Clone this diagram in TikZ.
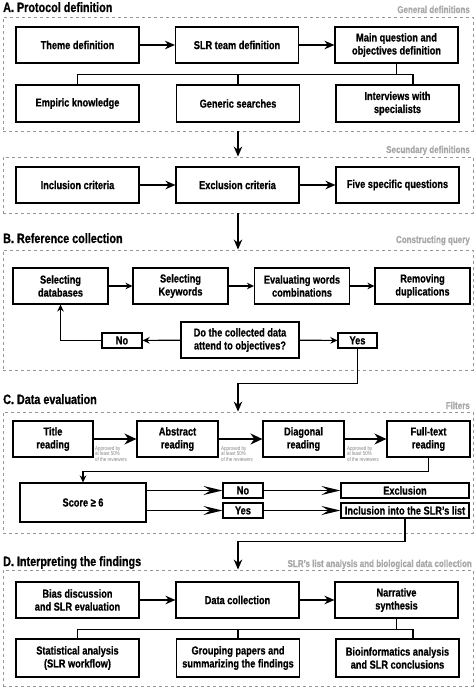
\documentclass[tikz,border=0pt]{standalone}
\usepackage{fontspec}
\setmainfont{Liberation Sans}[FakeStretch=0.8,BoldFeatures={FakeBold=0.7}]
\usetikzlibrary{positioning,arrows.meta}
\definecolor{colorframe}{RGB}{150,150,150}
\definecolor{colorlabel}{RGB}{168,168,168}

\begin{document}
\begin{tikzpicture}[
    x=1pt, y=-1pt,
    base/.style={draw,line width=1.1pt,fill=white,font={\fontsize{11.5}{13}\selectfont\bfseries},align=center,minimum width=123pt,minimum height=36pt,inner sep=2pt},
    small/.style={base,minimum height=15pt,inner sep=1pt},
    frame/.style={draw=colorframe,dashed,line width=0.9pt,minimum width=470pt},
    head/.style={font={\fontsize{13.5}{15}\selectfont\bfseries},anchor=base west,inner sep=0pt},
    tag/.style={text=colorlabel,font={\fontsize{10}{12}\selectfont\bfseries},anchor=base east,inner sep=0pt},
    tiny/.style={text=colorlabel!80!black,font={\fontsize{5.6}{5.4}\selectfont},align=left,anchor=north west,inner sep=0pt},
    link/.style={line width=1.2pt},
    arr/.style={-{Stealth[length=10pt,width=8.5pt]},line width=1.4pt},
    arrs/.style={-{Stealth[length=7pt,width=6.5pt]},line width=1.2pt},
    arrb/.style={-{Stealth[length=12pt,width=11pt]},line width=1.6pt},
    arrl/.style={-{Stealth[length=19pt,width=9pt,inset=7pt]},line width=1.5pt},
]
    \useasboundingbox (0,0) rectangle (474,688);

    % A. Protocol definition
    \node[frame,minimum height=114pt] at (238,74) (secA) {};
    \node[head] at (3,12) (headA) {A. Protocol definition};
    \node[tag] at (470,13) (tagA) {General definitions};

    \node[base] at (77.5,45)  (theme) {Theme definition};
    \node[base] at (237,45)   (team)  {SLR team definition};
    \node[base] at (396.5,45) (mainq) {Main question and\\objectives definition};
    \draw[arr](theme) -- (team);
    \draw[arr](team) -- (mainq);

    \node[base,minimum height=37pt] at (77.5,103.5) (emp)  {Empiric knowledge};
    \node[base,minimum height=37pt] at (238,103.5)  (gen)  {Generic searches};
    \node[base,minimum height=37pt] at (397.5,103.5) (intv) {Interviews with\\specialists};
    \draw[link](mainq.south) -- ++(0,11) coordinate (jA);
    \draw[link](emp.north) |- (jA) -| ([xshift=15.5pt]intv.north);
    \draw[link](gen.north) -- (gen.north |- jA);

    % secondary definitions
    \node[frame,minimum height=56pt] at (238,185) (secA2) {};
    \node[tag] at (470,153) (tagA2) {Secundary definitions};
    \draw[arr](secA.south) -- (secA2.north);

    \node[base] at (77.5,185)  (incrit) {Inclusion criteria};
    \node[base] at (237.5,185) (excrit) {Exclusion criteria};
    \node[base] at (397.5,185) (five)   {Five specific questions};
    \draw[arr](incrit) -- (excrit);
    \draw[arr](excrit) -- (five);

    % B. Reference collection
    \node[frame,minimum height=120pt] at (238,310) (secB) {};
    \node[head] at (3,243) (headB) {B. Reference collection};
    \node[tag] at (470,243) (tagB) {Constructing query};
    \draw[arr](secA2.south) -- (secB.north);

    \node[base,minimum width=95pt] at (60.5,286)  (db)   {Selecting\\databases};
    \node[base,minimum width=95pt] at (180.5,286) (kw)   {Selecting\\Keywords};
    \node[base,minimum width=95pt] at (302,286)   (comb) {Evaluating words\\combinations};
    \node[base,minimum width=95pt] at (422.5,286) (dup)  {Removing\\duplications};
    \draw[arrs](db) -- (kw);
    \draw[arrs](kw) -- (comb);
    \draw[arrs](comb) -- (dup);

    \node[base,minimum width=118pt] at (240,340) (quest) {Do the collected data\\attend to objectives?};
    \node[small,minimum width=40pt] at (122,340.5)   (no)  {No};
    \node[small,minimum width=39pt] at (357.5,340.5) (yes) {Yes};
    \draw[arrs](quest) -- (no);
    \draw[arrs](quest) -- (yes);
    \draw[arrs](no.west) -| (db.south);

    % C. Data evaluation
    \node[frame,minimum height=121pt] at (238,472.5) (secC) {};
    \node[head] at (3,404) (headC) {C. Data evaluation};
    \node[tag] at (470,409) (tagC) {Filters};
    \draw[arr](yes.south) -- ++(0,35) -| (secC.north);

    \node[base,minimum width=80pt] at (53,439)    (title) {Title\\reading};
    \node[base,minimum width=81pt] at (177.5,439) (abs)   {Abstract\\reading};
    \node[base,minimum width=81pt] at (303.5,439) (diag)  {Diagonal\\reading};
    \node[base,minimum width=83pt] at (428.5,439) (full)  {Full-text\\reading};
    \draw[arrb](title) -- (abs);
    \draw[arrb](abs) -- (diag);
    \draw[arrb](diag) -- (full);
    \node[tiny] at (95,446)  (apr1) {Approved by\\at least 50\%\\of the reviewers};
    \node[tiny] at (221,446) (apr2) {Approved by\\at least 50\%\\of the reviewers};
    \node[tiny] at (347,446) (apr3) {Approved by\\at least 50\%\\of the reviewers};

    \node[base,minimum width=126pt,minimum height=39pt] at (83,502.5) (score) {Score ≥ 6};
    \draw[arrs](full.south) -- ++(0,14) -| (score.north);
    \node[small,minimum width=40pt]  at (243,490.5) (cno)  {No};
    \node[small,minimum width=40pt]  at (243,510.5) (cyes) {Yes};
    \node[small,minimum width=128pt] at (405,490.5) (drop) {Exclusion};
    \node[small,minimum width=128pt] at (405,510.5) (keep) {Inclusion into the SLR's list};
    \draw[arrl](score.east |- cno) -- (cno);
    \draw[arrl](score.east |- cyes) -- (cyes);
    \draw[arrl](cno) -- (drop);
    \draw[arrl](cyes) -- (keep);

    % D. Interpreting the findings
    \node[frame,minimum height=116pt] at (238,628) (secD) {};
    \node[head] at (3,566) (headD) {D. Interpreting the findings};
    \node[tag] at (472,567) (tagD) {SLR's list analysis and biological data collection};
    \draw[arr](keep.south) -- ++(0,23) -| (secD.north);

    \node[base] at (77.5,600)  (bias) {Bias discussion\\and SLR evaluation};
    \node[base] at (237.5,600) (dcol) {Data collection};
    \node[base] at (396.5,600) (narr) {Narrative\\synthesis};
    \draw[arr](bias) -- (dcol);
    \draw[arr](dcol) -- (narr);

    \node[base,minimum height=38pt] at (77.5,658)  (stat)   {Statistical analysis\\(SLR workflow)};
    \node[base,minimum height=38pt] at (238,658)   (group)  {Grouping papers and\\summarizing the findings};
    \node[base,minimum height=38pt] at (397.5,658) (bioinf) {Bioinformatics analysis\\and SLR conclusions};
    \draw[link](narr.south) -- ++(0,11) coordinate (jD);
    \draw[link](stat.north) |- (jD) -| ([xshift=15.5pt]bioinf.north);
    \draw[link](group.north) -- (group.north |- jD);

\end{tikzpicture}
\end{document}
